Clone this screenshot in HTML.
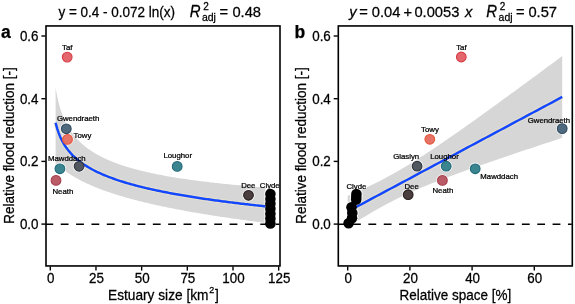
<!DOCTYPE html>
<html><head><meta charset="utf-8"><style>
html,body{margin:0;padding:0;background:#fff;width:575px;height:304px;overflow:hidden;position:relative}
svg{position:absolute;left:0;top:0;will-change:transform;filter:blur(0.4px)}
text{font-family:"Liberation Sans", sans-serif;fill:#000;stroke:#000;stroke-width:0.25px}
</style></head><body>
<svg width="575" height="304" viewBox="0 0 575 304"><rect width="575" height="304" fill="#fff"/><path d="M55.60,87.69 L57.11,96.10 L58.62,102.72 L60.13,108.17 L61.64,112.78 L63.15,116.76 L64.66,120.26 L66.17,123.38 L67.68,126.18 L69.19,128.72 L70.70,131.04 L72.21,133.18 L73.72,135.16 L75.23,136.99 L76.74,138.71 L78.25,140.31 L79.76,141.82 L81.27,143.24 L82.78,144.58 L84.29,145.85 L85.80,147.06 L87.31,148.21 L88.82,149.31 L90.33,150.35 L91.84,151.35 L93.35,152.31 L94.86,153.22 L96.37,154.11 L97.88,154.95 L99.39,155.77 L100.90,156.55 L102.41,157.31 L103.92,158.04 L105.43,158.75 L106.94,159.44 L108.45,160.10 L109.96,160.74 L111.47,161.36 L112.98,161.96 L114.49,162.55 L116.00,163.12 L117.51,163.67 L119.02,164.21 L120.53,164.73 L122.04,165.24 L123.55,165.74 L125.06,166.22 L126.57,166.69 L128.08,167.15 L129.59,167.60 L131.10,168.04 L132.61,168.46 L134.12,168.88 L135.63,169.29 L137.14,169.69 L138.65,170.08 L140.16,170.46 L141.67,170.83 L143.18,171.20 L144.69,171.56 L146.20,171.91 L147.71,172.25 L149.22,172.59 L150.73,172.92 L152.24,173.24 L153.75,173.56 L155.26,173.87 L156.77,174.18 L158.28,174.48 L159.79,174.77 L161.31,175.06 L162.82,175.35 L164.33,175.63 L165.84,175.90 L167.35,176.17 L168.86,176.44 L170.37,176.70 L171.88,176.95 L173.39,177.20 L174.90,177.45 L176.41,177.70 L177.92,177.94 L179.43,178.17 L180.94,178.41 L182.45,178.63 L183.96,178.86 L185.47,179.08 L186.98,179.30 L188.49,179.52 L190.00,179.73 L191.51,179.94 L193.02,180.14 L194.53,180.35 L196.04,180.55 L197.55,180.74 L199.06,180.94 L200.57,181.13 L202.08,181.32 L203.59,181.51 L205.10,181.69 L206.61,181.87 L208.12,182.05 L209.63,182.23 L211.14,182.40 L212.65,182.58 L214.16,182.75 L215.67,182.91 L217.18,183.08 L218.69,183.24 L220.20,183.40 L221.71,183.56 L223.22,183.72 L224.73,183.88 L226.24,184.03 L227.75,184.18 L229.26,184.33 L230.77,184.48 L232.28,184.63 L233.79,184.77 L235.30,184.91 L236.81,185.06 L238.32,185.20 L239.83,185.33 L241.34,185.47 L242.85,185.61 L244.36,185.74 L245.87,185.87 L247.38,186.00 L248.89,186.13 L250.40,186.26 L251.91,186.38 L253.42,186.51 L254.93,186.63 L256.44,186.75 L257.95,186.88 L259.46,187.00 L260.97,187.11 L262.48,187.23 L263.99,187.35 L265.50,187.46 L265.50,222.86 L263.99,222.67 L262.48,222.48 L260.97,222.29 L259.46,222.10 L257.95,221.90 L256.44,221.71 L254.93,221.51 L253.42,221.32 L251.91,221.12 L250.40,220.92 L248.89,220.72 L247.38,220.52 L245.87,220.31 L244.36,220.11 L242.85,219.90 L241.34,219.70 L239.83,219.49 L238.32,219.28 L236.81,219.07 L235.30,218.86 L233.79,218.64 L232.28,218.43 L230.77,218.21 L229.26,217.99 L227.75,217.77 L226.24,217.55 L224.73,217.33 L223.22,217.10 L221.71,216.88 L220.20,216.65 L218.69,216.42 L217.18,216.19 L215.67,215.96 L214.16,215.72 L212.65,215.49 L211.14,215.25 L209.63,215.01 L208.12,214.77 L206.61,214.52 L205.10,214.28 L203.59,214.03 L202.08,213.78 L200.57,213.53 L199.06,213.28 L197.55,213.02 L196.04,212.76 L194.53,212.50 L193.02,212.24 L191.51,211.98 L190.00,211.71 L188.49,211.44 L186.98,211.17 L185.47,210.89 L183.96,210.62 L182.45,210.34 L180.94,210.06 L179.43,209.78 L177.92,209.49 L176.41,209.20 L174.90,208.91 L173.39,208.61 L171.88,208.32 L170.37,208.01 L168.86,207.71 L167.35,207.40 L165.84,207.10 L164.33,206.78 L162.82,206.47 L161.31,206.15 L159.79,205.82 L158.28,205.50 L156.77,205.17 L155.26,204.83 L153.75,204.50 L152.24,204.16 L150.73,203.81 L149.22,203.46 L147.71,203.11 L146.20,202.75 L144.69,202.39 L143.18,202.02 L141.67,201.65 L140.16,201.28 L138.65,200.90 L137.14,200.51 L135.63,200.12 L134.12,199.73 L132.61,199.33 L131.10,198.92 L129.59,198.51 L128.08,198.09 L126.57,197.67 L125.06,197.24 L123.55,196.80 L122.04,196.36 L120.53,195.91 L119.02,195.45 L117.51,194.99 L116.00,194.52 L114.49,194.04 L112.98,193.55 L111.47,193.05 L109.96,192.55 L108.45,192.04 L106.94,191.51 L105.43,190.98 L103.92,190.44 L102.41,189.88 L100.90,189.32 L99.39,188.74 L97.88,188.15 L96.37,187.55 L94.86,186.94 L93.35,186.31 L91.84,185.67 L90.33,185.02 L88.82,184.34 L87.31,183.65 L85.80,182.95 L84.29,182.22 L82.78,181.48 L81.27,180.71 L79.76,179.93 L78.25,179.12 L76.74,178.29 L75.23,177.43 L73.72,176.55 L72.21,175.63 L70.70,174.69 L69.19,173.72 L67.68,172.72 L66.17,171.69 L64.66,170.62 L63.15,169.53 L61.64,168.43 L60.13,167.31 L58.62,166.23 L57.11,165.25 L55.60,164.52 Z" fill="#d6d6d6"/><path d="M347.70,195.84 L351.34,194.30 L354.97,192.73 L358.61,191.13 L362.24,189.49 L365.88,187.81 L369.51,186.09 L373.15,184.32 L376.78,182.52 L380.42,180.66 L384.06,178.76 L387.69,176.81 L391.33,174.82 L394.96,172.78 L398.60,170.69 L402.23,168.56 L405.87,166.39 L409.51,164.18 L413.14,161.92 L416.78,159.64 L420.41,157.32 L424.05,154.96 L427.68,152.58 L431.32,150.18 L434.95,147.75 L438.59,145.29 L442.23,142.82 L445.86,140.33 L449.50,137.82 L453.13,135.29 L456.77,132.75 L460.40,130.20 L464.04,127.64 L467.67,125.06 L471.31,122.48 L474.95,119.88 L478.58,117.28 L482.22,114.67 L485.85,112.05 L489.49,109.43 L493.12,106.80 L496.76,104.16 L500.39,101.52 L504.03,98.87 L507.67,96.22 L511.30,93.56 L514.94,90.90 L518.57,88.24 L522.21,85.58 L525.84,82.91 L529.48,80.23 L533.12,77.56 L536.75,74.88 L540.39,72.20 L544.02,69.52 L547.66,66.83 L551.29,64.14 L554.93,61.45 L558.56,58.76 L562.20,56.07 L562.20,137.85 L558.56,139.04 L554.93,140.24 L551.29,141.43 L547.66,142.63 L544.02,143.83 L540.39,145.03 L536.75,146.24 L533.12,147.44 L529.48,148.65 L525.84,149.86 L522.21,151.08 L518.57,152.30 L514.94,153.52 L511.30,154.74 L507.67,155.97 L504.03,157.21 L500.39,158.44 L496.76,159.69 L493.12,160.94 L489.49,162.19 L485.85,163.45 L482.22,164.72 L478.58,165.99 L474.95,167.27 L471.31,168.56 L467.67,169.86 L464.04,171.17 L460.40,172.49 L456.77,173.83 L453.13,175.17 L449.50,176.53 L445.86,177.91 L442.23,179.30 L438.59,180.71 L434.95,182.14 L431.32,183.59 L427.68,185.07 L424.05,186.58 L420.41,188.11 L416.78,189.67 L413.14,191.27 L409.51,192.90 L405.87,194.58 L402.23,196.29 L398.60,198.04 L394.96,199.84 L391.33,201.68 L387.69,203.57 L384.06,205.51 L380.42,207.50 L376.78,209.53 L373.15,211.60 L369.51,213.73 L365.88,215.89 L362.24,218.10 L358.61,220.34 L354.97,222.62 L351.34,224.93 L347.70,227.28 Z" fill="#d6d6d6"/><circle cx="67.20" cy="57.10" r="6.25" fill="#fff" opacity="0.7"/><circle cx="66.30" cy="128.80" r="6.25" fill="#fff" opacity="0.7"/><circle cx="67.50" cy="139.40" r="6.25" fill="#fff" opacity="0.7"/><circle cx="59.90" cy="168.80" r="6.25" fill="#fff" opacity="0.7"/><circle cx="79.10" cy="166.30" r="6.25" fill="#fff" opacity="0.7"/><circle cx="56.00" cy="180.40" r="6.25" fill="#fff" opacity="0.7"/><circle cx="177.20" cy="166.40" r="6.25" fill="#fff" opacity="0.7"/><circle cx="248.50" cy="195.30" r="6.25" fill="#fff" opacity="0.7"/><circle cx="461.30" cy="57.00" r="6.25" fill="#fff" opacity="0.7"/><circle cx="429.80" cy="139.30" r="6.25" fill="#fff" opacity="0.7"/><circle cx="417.10" cy="166.20" r="6.25" fill="#fff" opacity="0.7"/><circle cx="446.20" cy="166.20" r="6.25" fill="#fff" opacity="0.7"/><circle cx="442.40" cy="180.40" r="6.25" fill="#fff" opacity="0.7"/><circle cx="408.20" cy="194.70" r="6.25" fill="#fff" opacity="0.7"/><circle cx="475.20" cy="168.80" r="6.25" fill="#fff" opacity="0.7"/><circle cx="562.20" cy="128.60" r="6.25" fill="#fff" opacity="0.7"/><circle cx="270.40" cy="194.10" r="6.4" fill="#fff" opacity="0.7"/><circle cx="270.40" cy="198.98" r="6.4" fill="#fff" opacity="0.7"/><circle cx="270.40" cy="203.87" r="6.4" fill="#fff" opacity="0.7"/><circle cx="270.40" cy="208.75" r="6.4" fill="#fff" opacity="0.7"/><circle cx="270.40" cy="213.63" r="6.4" fill="#fff" opacity="0.7"/><circle cx="270.40" cy="218.52" r="6.4" fill="#fff" opacity="0.7"/><circle cx="270.40" cy="223.40" r="6.4" fill="#fff" opacity="0.7"/><circle cx="356.40" cy="194.10" r="6.4" fill="#fff" opacity="0.7"/><circle cx="356.20" cy="199.60" r="6.4" fill="#fff" opacity="0.7"/><circle cx="351.50" cy="207.30" r="6.4" fill="#fff" opacity="0.7"/><circle cx="352.30" cy="213.00" r="6.4" fill="#fff" opacity="0.7"/><circle cx="352.00" cy="218.30" r="6.4" fill="#fff" opacity="0.7"/><circle cx="348.60" cy="223.30" r="6.4" fill="#fff" opacity="0.7"/><circle cx="356.30" cy="197.00" r="6.4" fill="#fff" opacity="0.7"/><line x1="45.4" y1="224.35" x2="279.5" y2="224.35" stroke="#000" stroke-width="1.5" stroke-dasharray="7.8 7.55"/><line x1="337.7" y1="224.35" x2="571.8" y2="224.35" stroke="#000" stroke-width="1.5" stroke-dasharray="7.8 7.55"/><path d="M55.60,122.74 L57.11,128.40 L58.62,132.92 L60.13,136.68 L61.64,139.91 L63.15,142.73 L64.66,145.24 L66.17,147.50 L67.68,149.55 L69.19,151.43 L70.70,153.16 L72.21,154.78 L73.72,156.28 L75.23,157.69 L76.74,159.02 L78.25,160.27 L79.76,161.46 L81.27,162.59 L82.78,163.66 L84.29,164.69 L85.80,165.67 L87.31,166.61 L88.82,167.51 L90.33,168.38 L91.84,169.22 L93.35,170.02 L94.86,170.80 L96.37,171.55 L97.88,172.28 L99.39,172.98 L100.90,173.67 L102.41,174.33 L103.92,174.98 L105.43,175.60 L106.94,176.21 L108.45,176.81 L109.96,177.39 L111.47,177.95 L112.98,178.50 L114.49,179.04 L116.00,179.56 L117.51,180.08 L119.02,180.58 L120.53,181.07 L122.04,181.55 L123.55,182.02 L125.06,182.48 L126.57,182.93 L128.08,183.37 L129.59,183.81 L131.10,184.23 L132.61,184.65 L134.12,185.06 L135.63,185.46 L137.14,185.86 L138.65,186.25 L140.16,186.63 L141.67,187.01 L143.18,187.38 L144.69,187.74 L146.20,188.10 L147.71,188.45 L149.22,188.80 L150.73,189.14 L152.24,189.48 L153.75,189.81 L155.26,190.14 L156.77,190.46 L158.28,190.78 L159.79,191.09 L161.31,191.40 L162.82,191.71 L164.33,192.01 L165.84,192.30 L167.35,192.60 L168.86,192.89 L170.37,193.17 L171.88,193.45 L173.39,193.73 L174.90,194.01 L176.41,194.28 L177.92,194.55 L179.43,194.81 L180.94,195.08 L182.45,195.34 L183.96,195.59 L185.47,195.85 L186.98,196.10 L188.49,196.34 L190.00,196.59 L191.51,196.83 L193.02,197.07 L194.53,197.31 L196.04,197.55 L197.55,197.78 L199.06,198.01 L200.57,198.24 L202.08,198.46 L203.59,198.69 L205.10,198.91 L206.61,199.13 L208.12,199.34 L209.63,199.56 L211.14,199.77 L212.65,199.98 L214.16,200.19 L215.67,200.40 L217.18,200.60 L218.69,200.81 L220.20,201.01 L221.71,201.21 L223.22,201.41 L224.73,201.60 L226.24,201.80 L227.75,201.99 L229.26,202.18 L230.77,202.37 L232.28,202.56 L233.79,202.75 L235.30,202.93 L236.81,203.11 L238.32,203.30 L239.83,203.48 L241.34,203.66 L242.85,203.83 L244.36,204.01 L245.87,204.18 L247.38,204.36 L248.89,204.53 L250.40,204.70 L251.91,204.87 L253.42,205.04 L254.93,205.21 L256.44,205.37 L257.95,205.54 L259.46,205.70 L260.97,205.86 L262.48,206.02 L263.99,206.18 L265.50,206.34" fill="none" stroke="#f2e8c8" stroke-width="4.4" opacity="0.7"/><path d="M347.70,211.56 L351.34,209.62 L354.97,207.68 L358.61,205.73 L362.24,203.79 L365.88,201.85 L369.51,199.91 L373.15,197.96 L376.78,196.02 L380.42,194.08 L384.06,192.14 L387.69,190.19 L391.33,188.25 L394.96,186.31 L398.60,184.37 L402.23,182.42 L405.87,180.48 L409.51,178.54 L413.14,176.60 L416.78,174.66 L420.41,172.71 L424.05,170.77 L427.68,168.83 L431.32,166.89 L434.95,164.94 L438.59,163.00 L442.23,161.06 L445.86,159.12 L449.50,157.17 L453.13,155.23 L456.77,153.29 L460.40,151.35 L464.04,149.40 L467.67,147.46 L471.31,145.52 L474.95,143.58 L478.58,141.64 L482.22,139.69 L485.85,137.75 L489.49,135.81 L493.12,133.87 L496.76,131.92 L500.39,129.98 L504.03,128.04 L507.67,126.10 L511.30,124.15 L514.94,122.21 L518.57,120.27 L522.21,118.33 L525.84,116.38 L529.48,114.44 L533.12,112.50 L536.75,110.56 L540.39,108.62 L544.02,106.67 L547.66,104.73 L551.29,102.79 L554.93,100.85 L558.56,98.90 L562.20,96.96" fill="none" stroke="#f2e8c8" stroke-width="4.4" opacity="0.7"/><path d="M55.60,122.74 L57.11,128.40 L58.62,132.92 L60.13,136.68 L61.64,139.91 L63.15,142.73 L64.66,145.24 L66.17,147.50 L67.68,149.55 L69.19,151.43 L70.70,153.16 L72.21,154.78 L73.72,156.28 L75.23,157.69 L76.74,159.02 L78.25,160.27 L79.76,161.46 L81.27,162.59 L82.78,163.66 L84.29,164.69 L85.80,165.67 L87.31,166.61 L88.82,167.51 L90.33,168.38 L91.84,169.22 L93.35,170.02 L94.86,170.80 L96.37,171.55 L97.88,172.28 L99.39,172.98 L100.90,173.67 L102.41,174.33 L103.92,174.98 L105.43,175.60 L106.94,176.21 L108.45,176.81 L109.96,177.39 L111.47,177.95 L112.98,178.50 L114.49,179.04 L116.00,179.56 L117.51,180.08 L119.02,180.58 L120.53,181.07 L122.04,181.55 L123.55,182.02 L125.06,182.48 L126.57,182.93 L128.08,183.37 L129.59,183.81 L131.10,184.23 L132.61,184.65 L134.12,185.06 L135.63,185.46 L137.14,185.86 L138.65,186.25 L140.16,186.63 L141.67,187.01 L143.18,187.38 L144.69,187.74 L146.20,188.10 L147.71,188.45 L149.22,188.80 L150.73,189.14 L152.24,189.48 L153.75,189.81 L155.26,190.14 L156.77,190.46 L158.28,190.78 L159.79,191.09 L161.31,191.40 L162.82,191.71 L164.33,192.01 L165.84,192.30 L167.35,192.60 L168.86,192.89 L170.37,193.17 L171.88,193.45 L173.39,193.73 L174.90,194.01 L176.41,194.28 L177.92,194.55 L179.43,194.81 L180.94,195.08 L182.45,195.34 L183.96,195.59 L185.47,195.85 L186.98,196.10 L188.49,196.34 L190.00,196.59 L191.51,196.83 L193.02,197.07 L194.53,197.31 L196.04,197.55 L197.55,197.78 L199.06,198.01 L200.57,198.24 L202.08,198.46 L203.59,198.69 L205.10,198.91 L206.61,199.13 L208.12,199.34 L209.63,199.56 L211.14,199.77 L212.65,199.98 L214.16,200.19 L215.67,200.40 L217.18,200.60 L218.69,200.81 L220.20,201.01 L221.71,201.21 L223.22,201.41 L224.73,201.60 L226.24,201.80 L227.75,201.99 L229.26,202.18 L230.77,202.37 L232.28,202.56 L233.79,202.75 L235.30,202.93 L236.81,203.11 L238.32,203.30 L239.83,203.48 L241.34,203.66 L242.85,203.83 L244.36,204.01 L245.87,204.18 L247.38,204.36 L248.89,204.53 L250.40,204.70 L251.91,204.87 L253.42,205.04 L254.93,205.21 L256.44,205.37 L257.95,205.54 L259.46,205.70 L260.97,205.86 L262.48,206.02 L263.99,206.18 L265.50,206.34" fill="none" stroke="#1448ff" stroke-width="2.5"/><path d="M347.70,211.56 L351.34,209.62 L354.97,207.68 L358.61,205.73 L362.24,203.79 L365.88,201.85 L369.51,199.91 L373.15,197.96 L376.78,196.02 L380.42,194.08 L384.06,192.14 L387.69,190.19 L391.33,188.25 L394.96,186.31 L398.60,184.37 L402.23,182.42 L405.87,180.48 L409.51,178.54 L413.14,176.60 L416.78,174.66 L420.41,172.71 L424.05,170.77 L427.68,168.83 L431.32,166.89 L434.95,164.94 L438.59,163.00 L442.23,161.06 L445.86,159.12 L449.50,157.17 L453.13,155.23 L456.77,153.29 L460.40,151.35 L464.04,149.40 L467.67,147.46 L471.31,145.52 L474.95,143.58 L478.58,141.64 L482.22,139.69 L485.85,137.75 L489.49,135.81 L493.12,133.87 L496.76,131.92 L500.39,129.98 L504.03,128.04 L507.67,126.10 L511.30,124.15 L514.94,122.21 L518.57,120.27 L522.21,118.33 L525.84,116.38 L529.48,114.44 L533.12,112.50 L536.75,110.56 L540.39,108.62 L544.02,106.67 L547.66,104.73 L551.29,102.79 L554.93,100.85 L558.56,98.90 L562.20,96.96" fill="none" stroke="#1448ff" stroke-width="2.5"/><circle cx="67.2" cy="57.1" r="4.85" fill="#e4676d" stroke="#d63c46" stroke-width="1.1"/><circle cx="66.3" cy="128.8" r="4.85" fill="#4f6a7e" stroke="#304b62" stroke-width="1.1"/><circle cx="67.5" cy="139.4" r="4.85" fill="#e67466" stroke="#e4553a" stroke-width="1.1"/><circle cx="59.9" cy="168.8" r="4.85" fill="#3b8591" stroke="#226c7a" stroke-width="1.1"/><circle cx="79.1" cy="166.3" r="4.85" fill="#525860" stroke="#2f3540" stroke-width="1.1"/><circle cx="56.0" cy="180.4" r="4.85" fill="#b95c68" stroke="#a63c4c" stroke-width="1.1"/><circle cx="177.2" cy="166.4" r="4.85" fill="#3b8591" stroke="#226c7a" stroke-width="1.1"/><circle cx="248.5" cy="195.3" r="4.85" fill="#4a3e3e" stroke="#2a1f1f" stroke-width="1.1"/><circle cx="270.40" cy="194.10" r="5.3" fill="#000"/><circle cx="270.40" cy="198.98" r="5.3" fill="#000"/><circle cx="270.40" cy="203.87" r="5.3" fill="#000"/><circle cx="270.40" cy="208.75" r="5.3" fill="#000"/><circle cx="270.40" cy="213.63" r="5.3" fill="#000"/><circle cx="270.40" cy="218.52" r="5.3" fill="#000"/><circle cx="270.40" cy="223.40" r="5.3" fill="#000"/><circle cx="461.3" cy="57.0" r="4.85" fill="#e4676d" stroke="#d63c46" stroke-width="1.1"/><circle cx="429.8" cy="139.3" r="4.85" fill="#e67466" stroke="#e4553a" stroke-width="1.1"/><circle cx="417.1" cy="166.2" r="4.85" fill="#525860" stroke="#2f3540" stroke-width="1.1"/><circle cx="446.2" cy="166.2" r="4.85" fill="#3b8591" stroke="#226c7a" stroke-width="1.1"/><circle cx="442.4" cy="180.4" r="4.85" fill="#b95c68" stroke="#a63c4c" stroke-width="1.1"/><circle cx="408.2" cy="194.7" r="4.85" fill="#4a3e3e" stroke="#2a1f1f" stroke-width="1.1"/><circle cx="475.2" cy="168.8" r="4.85" fill="#3b8591" stroke="#226c7a" stroke-width="1.1"/><circle cx="562.2" cy="128.6" r="4.85" fill="#4f6a7e" stroke="#304b62" stroke-width="1.1"/><circle cx="356.40" cy="194.10" r="5.3" fill="#000"/><circle cx="356.20" cy="199.60" r="5.3" fill="#000"/><circle cx="351.50" cy="207.30" r="5.3" fill="#000"/><circle cx="352.30" cy="213.00" r="5.3" fill="#000"/><circle cx="352.00" cy="218.30" r="5.3" fill="#000"/><circle cx="348.60" cy="223.30" r="5.3" fill="#000"/><circle cx="356.30" cy="197.00" r="5.3" fill="#000"/><g class="lb"><g transform="translate(62.12,49.55) scale(1,0.93)"><text x="0" y="0" font-size="7.8" text-anchor="start" >Taf</text></g><g transform="translate(56.91,120.75) scale(1,0.93)"><text x="0" y="0" font-size="7.8" text-anchor="start" >Gwendraeth</text></g><g transform="translate(73.62,137.75) scale(1,0.93)"><text x="0" y="0" font-size="7.8" text-anchor="start" >Towy</text></g><g transform="translate(47.96,160.55) scale(1,0.93)"><text x="0" y="0" font-size="7.8" text-anchor="start" >Mawddach</text></g><g transform="translate(52.46,194.35) scale(1,0.93)"><text x="0" y="0" font-size="7.8" text-anchor="start" >Neath</text></g><g transform="translate(163.46,157.95) scale(1,0.93)"><text x="0" y="0" font-size="7.8" text-anchor="start" >Loughor</text></g><g transform="translate(241.16,187.95) scale(1,0.93)"><text x="0" y="0" font-size="7.8" text-anchor="start" >Dee</text></g><g transform="translate(259.80,188.05) scale(1,0.93)"><text x="0" y="0" font-size="7.8" text-anchor="start" >Clyde</text></g><g transform="translate(456.22,49.55) scale(1,0.93)"><text x="0" y="0" font-size="7.8" text-anchor="start" >Taf</text></g><g transform="translate(421.12,131.75) scale(1,0.93)"><text x="0" y="0" font-size="7.8" text-anchor="start" >Towy</text></g><g transform="translate(393.21,158.95) scale(1,0.93)"><text x="0" y="0" font-size="7.8" text-anchor="start" >Glaslyn</text></g><g transform="translate(430.16,158.95) scale(1,0.93)"><text x="0" y="0" font-size="7.8" text-anchor="start" >Loughor</text></g><g transform="translate(432.46,192.55) scale(1,0.93)"><text x="0" y="0" font-size="7.8" text-anchor="start" >Neath</text></g><g transform="translate(404.46,189.15) scale(1,0.93)"><text x="0" y="0" font-size="7.8" text-anchor="start" >Dee</text></g><g transform="translate(480.36,178.55) scale(1,0.93)"><text x="0" y="0" font-size="7.8" text-anchor="start" >Mawddach</text></g><g transform="translate(527.71,122.65) scale(1,0.93)"><text x="0" y="0" font-size="7.8" text-anchor="start" >Gwendraeth</text></g><g transform="translate(346.40,188.55) scale(1,0.93)"><text x="0" y="0" font-size="7.8" text-anchor="start" >Clyde</text></g></g><rect x="46.0" y="25.95" width="234.0" height="240.0" fill="none" stroke="#000" stroke-width="1.6"/><rect x="338.3" y="25.95" width="234.0" height="240.0" fill="none" stroke="#000" stroke-width="1.6"/><line x1="41.4" y1="224.10" x2="45.5" y2="224.10" stroke="#000" stroke-width="1.4"/><line x1="41.4" y1="161.40" x2="45.5" y2="161.40" stroke="#000" stroke-width="1.4"/><line x1="41.4" y1="98.70" x2="45.5" y2="98.70" stroke="#000" stroke-width="1.4"/><line x1="41.4" y1="36.00" x2="45.5" y2="36.00" stroke="#000" stroke-width="1.4"/><line x1="333.7" y1="224.10" x2="337.8" y2="224.10" stroke="#000" stroke-width="1.4"/><line x1="333.7" y1="161.40" x2="337.8" y2="161.40" stroke="#000" stroke-width="1.4"/><line x1="333.7" y1="98.70" x2="337.8" y2="98.70" stroke="#000" stroke-width="1.4"/><line x1="333.7" y1="36.00" x2="337.8" y2="36.00" stroke="#000" stroke-width="1.4"/><line x1="50.30" y1="266.5" x2="50.30" y2="270.6" stroke="#000" stroke-width="1.4"/><line x1="95.97" y1="266.5" x2="95.97" y2="270.6" stroke="#000" stroke-width="1.4"/><line x1="141.65" y1="266.5" x2="141.65" y2="270.6" stroke="#000" stroke-width="1.4"/><line x1="187.32" y1="266.5" x2="187.32" y2="270.6" stroke="#000" stroke-width="1.4"/><line x1="233.00" y1="266.5" x2="233.00" y2="270.6" stroke="#000" stroke-width="1.4"/><line x1="278.68" y1="266.5" x2="278.68" y2="270.6" stroke="#000" stroke-width="1.4"/><line x1="347.70" y1="266.5" x2="347.70" y2="270.6" stroke="#000" stroke-width="1.4"/><line x1="409.90" y1="266.5" x2="409.90" y2="270.6" stroke="#000" stroke-width="1.4"/><line x1="472.10" y1="266.5" x2="472.10" y2="270.6" stroke="#000" stroke-width="1.4"/><line x1="534.30" y1="266.5" x2="534.30" y2="270.6" stroke="#000" stroke-width="1.4"/><g transform="translate(38.50,228.90) scale(1,1.05)"><text x="0" y="0" font-size="13.4" text-anchor="end" >0.0</text></g><g transform="translate(38.50,166.20) scale(1,1.05)"><text x="0" y="0" font-size="13.4" text-anchor="end" >0.2</text></g><g transform="translate(38.50,103.50) scale(1,1.05)"><text x="0" y="0" font-size="13.4" text-anchor="end" >0.4</text></g><g transform="translate(38.50,40.80) scale(1,1.05)"><text x="0" y="0" font-size="13.4" text-anchor="end" >0.6</text></g><g transform="translate(330.80,228.90) scale(1,1.05)"><text x="0" y="0" font-size="13.4" text-anchor="end" >0.0</text></g><g transform="translate(330.80,166.20) scale(1,1.05)"><text x="0" y="0" font-size="13.4" text-anchor="end" >0.2</text></g><g transform="translate(330.80,103.50) scale(1,1.05)"><text x="0" y="0" font-size="13.4" text-anchor="end" >0.4</text></g><g transform="translate(330.80,40.80) scale(1,1.05)"><text x="0" y="0" font-size="13.4" text-anchor="end" >0.6</text></g><g transform="translate(50.80,282.80) scale(1,1.05)"><text x="0" y="0" font-size="13.4" text-anchor="middle" >0</text></g><g transform="translate(96.47,282.80) scale(1,1.05)"><text x="0" y="0" font-size="13.4" text-anchor="middle" >25</text></g><g transform="translate(142.15,282.80) scale(1,1.05)"><text x="0" y="0" font-size="13.4" text-anchor="middle" >50</text></g><g transform="translate(187.82,282.80) scale(1,1.05)"><text x="0" y="0" font-size="13.4" text-anchor="middle" >75</text></g><g transform="translate(233.50,282.80) scale(1,1.05)"><text x="0" y="0" font-size="13.4" text-anchor="middle" >100</text></g><g transform="translate(279.18,282.80) scale(1,1.05)"><text x="0" y="0" font-size="13.4" text-anchor="middle" >125</text></g><g transform="translate(348.20,282.80) scale(1,1.05)"><text x="0" y="0" font-size="13.4" text-anchor="middle" >0</text></g><g transform="translate(410.40,282.80) scale(1,1.05)"><text x="0" y="0" font-size="13.4" text-anchor="middle" >20</text></g><g transform="translate(472.60,282.80) scale(1,1.05)"><text x="0" y="0" font-size="13.4" text-anchor="middle" >40</text></g><g transform="translate(534.80,282.80) scale(1,1.05)"><text x="0" y="0" font-size="13.4" text-anchor="middle" >60</text></g><g transform="translate(163.40,299.50) scale(1,1.05)"><text x="0" y="0" font-size="13.7" text-anchor="middle" >Estuary size [km<tspan font-size="9" dx="0.9" dy="-5.8">2</tspan><tspan dx="0.6" dy="5.8">]</tspan></text></g><g transform="translate(455.30,299.50) scale(1,1.05)"><text x="0" y="0" font-size="13.5" text-anchor="middle" >Relative space [%]</text></g><g transform="translate(13.7,145.5) rotate(-90) scale(1,1.05)"><text x="0" y="0" font-size="13.5" text-anchor="middle">Relative flood reduction [-]</text></g><g transform="translate(306.0,145.5) rotate(-90) scale(1,1.05)"><text x="0" y="0" font-size="13.5" text-anchor="middle">Relative flood reduction [-]</text></g><g transform="translate(1,38)"><text font-size="17.5" font-weight="bold">a</text></g><g transform="translate(294.5,37.8)"><text font-size="17.5" font-weight="bold">b</text></g><g transform="translate(58.47,17.00) scale(1,1.05)"><text x="0" y="0" font-size="13.5" text-anchor="start" >y = 0.4 - 0.072 ln(x)</text></g><g transform="translate(189.74,17.00) scale(1,1.05)"><text x="0" y="0" font-size="15.0" text-anchor="start"  font-style="italic">R</text></g><g transform="translate(203.20,9.50) scale(1,1.05)"><text x="0" y="0" font-size="10.0" text-anchor="start" >2</text></g><g transform="translate(201.95,21.30) scale(1,1.05)"><text x="0" y="0" font-size="10.5" text-anchor="start" >adj</text></g><g transform="translate(219.48,17.00) scale(1,1.05)"><text x="0" y="0" font-size="14.7" text-anchor="start" >=</text></g><g transform="translate(232.43,17.00) scale(1,1.05)"><text x="0" y="0" font-size="14.7" text-anchor="start" >0.48</text></g><g transform="translate(349.13,17.00) scale(1,1.05)"><text x="0" y="0" font-size="14.7" text-anchor="start"  font-style="italic">y</text></g><g transform="translate(359.28,17.00) scale(1,1.05)"><text x="0" y="0" font-size="14.7" text-anchor="start" >=</text></g><g transform="translate(371.83,17.00) scale(1,1.05)"><text x="0" y="0" font-size="14.7" text-anchor="start" >0.04</text></g><g transform="translate(403.38,17.00) scale(1,1.05)"><text x="0" y="0" font-size="14.7" text-anchor="start" >+</text></g><g transform="translate(414.43,17.00) scale(1,1.05)"><text x="0" y="0" font-size="14.7" text-anchor="start" >0.0053</text></g><g transform="translate(464.89,17.00) scale(1,1.05)"><text x="0" y="0" font-size="14.7" text-anchor="start"  font-style="italic">x</text></g><g transform="translate(486.34,17.00) scale(1,1.05)"><text x="0" y="0" font-size="15.0" text-anchor="start"  font-style="italic">R</text></g><g transform="translate(499.80,9.50) scale(1,1.05)"><text x="0" y="0" font-size="10.0" text-anchor="start" >2</text></g><g transform="translate(498.55,21.30) scale(1,1.05)"><text x="0" y="0" font-size="10.5" text-anchor="start" >adj</text></g><g transform="translate(516.08,17.00) scale(1,1.05)"><text x="0" y="0" font-size="14.7" text-anchor="start" >=</text></g><g transform="translate(528.43,17.00) scale(1,1.05)"><text x="0" y="0" font-size="14.7" text-anchor="start" >0.57</text></g></svg>
</body></html>
